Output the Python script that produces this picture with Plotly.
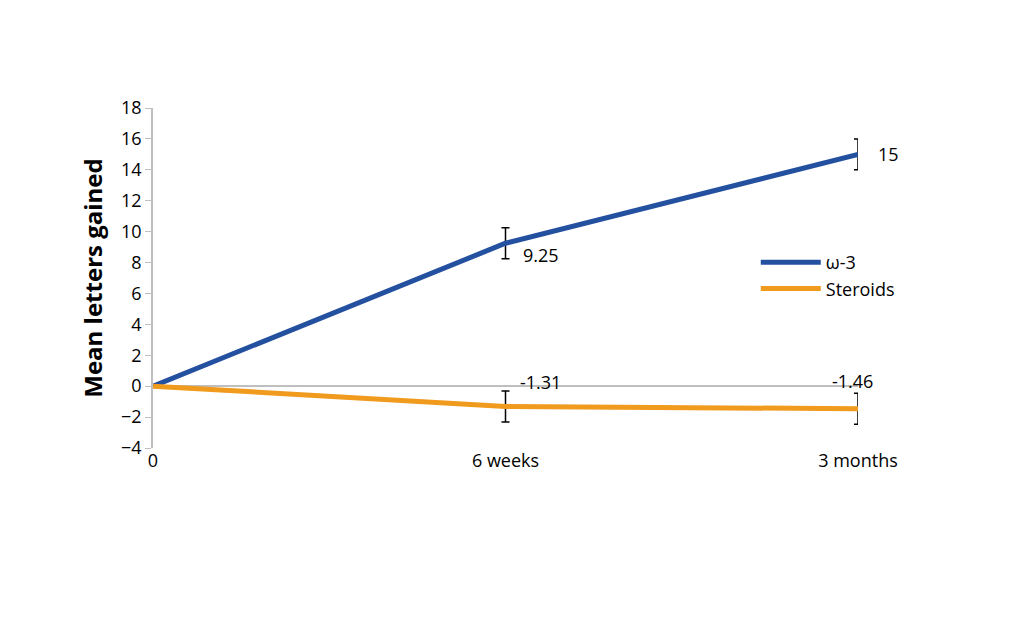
import plotly.graph_objects as go

categories = ["0", "6 weeks", "3 months"]
omega3 = [0, 9.25, 15]
omega3_err = [0, 1, 1]
steroids = [0, -1.31, -1.46]
steroids_err = [0, 1, 1]
xpos = [0, 1, 2]

blue = "#2450A0"
orange = "#F09A1E"

fig = go.Figure()
fig.add_trace(go.Scatter(x=xpos, y=omega3, mode="lines", name="ω-3",
    line=dict(color=blue, width=5),
    error_y=dict(type="data", array=omega3_err, color="black", thickness=1.5, width=4)))
fig.add_trace(go.Scatter(x=xpos, y=steroids, mode="lines", name="Steroids",
    line=dict(color=orange, width=5),
    error_y=dict(type="data", array=steroids_err, color="black", thickness=1.5, width=4)))

fam = "Open Sans, Liberation Sans, Arial"
font = dict(family=fam, size=18, color="black")
labels = [(1, omega3[1], "9.25", 15, -12), (2, omega3[2], "15", 18, 0),
          (1, steroids[1], "-1.31", 12, 24), (2, steroids[2], "-1.46", -28, 28)]
for x, y, t, ax, ay in labels:
    fig.add_annotation(x=x, y=y, text=t, showarrow=False, xshift=ax, yshift=ay,
                       xanchor="left", font=font)

fig.update_layout(
    width=1024, height=630, plot_bgcolor="white", paper_bgcolor="white",
    margin=dict(l=145, r=174, t=100, b=190),
    font=font,
    legend=dict(x=0.855, y=0.6, xanchor="left", yanchor="top", font=font,
                tracegroupgap=38, itemwidth=60, bgcolor="rgba(0,0,0,0)"),
    xaxis=dict(range=[0, 2], tickvals=xpos, ticktext=categories, showgrid=False,
               zeroline=False, showline=False, ticks="", tickfont=font),
    yaxis=dict(range=[-4, 18], dtick=2, showgrid=False, zeroline=True,
               zerolinecolor="#BFBFBF", zerolinewidth=1.5, showline=True,
               linecolor="#BFBFBF", linewidth=1.5, ticks="outside", ticklen=6,
               tickcolor="#BFBFBF", tickfont=font,
               title=dict(text="<b>Mean letters gained</b>",
                          font=dict(family=fam, size=24, color="black"),
                          standoff=12)),
)
fig.write_html("out.html")
